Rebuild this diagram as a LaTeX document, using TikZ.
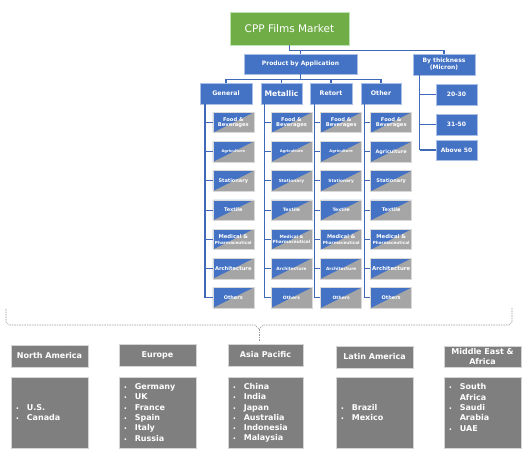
\documentclass[tikz,border=0pt]{standalone}
\usepackage{fontspec}
\setmainfont{DejaVu Sans}
\usetikzlibrary{calc}
\definecolor{cblue}{HTML}{4472C4}
\definecolor{cgray}{HTML}{A5A5A5}
\definecolor{cgreen}{HTML}{70AD47}
\definecolor{cline}{HTML}{4068B8}
\definecolor{rgray}{HTML}{7F7F7F}
\definecolor{rborder}{HTML}{D4D4D4}
\definecolor{bborder}{HTML}{A9BFE6}
\newcommand\fs[2]{\fontsize{#1}{#2}\selectfont}
\newcommand\bl{\makebox[11pt][l]{\fs{5}{5}\textbullet}}
\begin{document}
\begin{tikzpicture}[x=1pt,y=-1pt,
  conn/.style={draw=cline,line width=1.1pt},
  bbox/.style={rectangle,inner sep=0pt,fill=cblue,draw=bborder,line width=0.7pt,text=white,align=center},
  sub/.style={rectangle,minimum width=41pt,minimum height=20.5pt,inner sep=0pt,fill=cgray,
    draw=white!85!black,line width=0.5pt,text=white,align=center,
    path picture={\fill[cblue] (path picture bounding box.south west) -- (path picture bounding box.north west) -- (path picture bounding box.north east) -- cycle;}},
  rhead/.style={rectangle,inner sep=0pt,fill=rgray,draw=rborder,line width=0.8pt,minimum width=77pt,minimum height=22pt,text=white,align=center,font=\bfseries\fs{8}{10}},
  rbody/.style={rectangle,inner sep=0pt,fill=rgray,draw=rborder,line width=0.8pt,minimum width=77pt,minimum height=71pt},
  rtext/.style={inner sep=0pt,anchor=west,text=white,align=left,font=\bfseries\fs{8}{10.3}},
  brace/.style={draw=gray!80,line width=0.6pt,dash pattern=on 1.5pt off 1pt}
]
\fill[white] (0,0) rectangle (531,460);
\useasboundingbox (0,0) rectangle (531,460);

% top
\node[rectangle,inner sep=0pt,fill=cgreen,draw=green!20!cgreen!40!white,line width=0.8pt,minimum width=119pt,minimum height=33pt,text=white,font=\fs{10.5}{12}] (title) at (289.5,28.5) {CPP Films Market};
\node[bbox,minimum width=113pt,minimum height=20pt,font=\bfseries\fs{6}{7}] (prod) at (300.5,64) {Product by Application};
\node[bbox,minimum width=62pt,minimum height=21pt,font=\bfseries\fs{6}{7.2}] (thick) at (444,64.5) {By thickness\\(Micron)};

\node[bbox,minimum width=52pt,minimum height=21pt,font=\bfseries\fs{6.2}{7}] (gen) at (226,93.5) {General};
\node[bbox,minimum width=41pt,minimum height=21pt,font=\bfseries\fs{7.6}{8}] (met) at (281.5,93.5) {Metallic};
\node[bbox,minimum width=42pt,minimum height=21pt,font=\bfseries\fs{6.3}{7}] (ret) at (331,93.5) {Retort};
\node[bbox,minimum width=40pt,minimum height=21pt,font=\bfseries\fs{6.3}{7}] (oth) at (381,93.5) {Other};

\node[bbox,minimum width=41pt,minimum height=21pt,font=\bfseries\fs{6}{7}] (t1) at (456.5,94.5) {20-30};
\node[bbox,minimum width=41pt,minimum height=21pt,font=\bfseries\fs{6}{7}] (t2) at (456.5,124.5) {31-50};
\node[bbox,minimum width=41pt,minimum height=20pt,font=\bfseries\fs{6}{7}] (t3) at (456.5,150) {Above 50};

% sub boxes: General
\node[sub,font=\bfseries\fs{5.2}{5.8}] (g1) at (233.3,122.5) {Food \&\\Beverages};
\node[sub,font=\bfseries\fs{3.7}{4}] (g2) at (233.3,151.7) {Agriculture};
\node[sub,font=\bfseries\fs{5}{5.5}] (g3) at (233.3,180.9) {Stationary};
\node[sub,font=\bfseries\fs{5}{5.5}] (g4) at (233.3,210.1) {Textile};
\node[sub,font=\bfseries\fs{4.2}{5.6}] (g5) at (233.3,239.3) {{\fs{5.3}{5.6}Medical \&}\\Pharmaceutical};
\node[sub,font=\bfseries\fs{5.2}{5.5}] (g6) at (233.3,268.5) {Architecture};
\node[sub,font=\bfseries\fs{5}{5.5}] (g7) at (233.3,297.7) {Others};
% Metallic
\node[sub,font=\bfseries\fs{5.2}{5.8}] (m1) at (291.5,122.5) {Food \&\\Beverages};
\node[sub,font=\bfseries\fs{3.7}{4}] (m2) at (291.5,151.7) {Agriculture};
\node[sub,font=\bfseries\fs{4.3}{5}] (m3) at (291.5,180.9) {Stationary};
\node[sub,font=\bfseries\fs{4.6}{5}] (m4) at (291.5,210.1) {Textile};
\node[sub,font=\bfseries\fs{4.3}{5.2}] (m5) at (291.5,239.3) {Medical \&\\Pharmaceutical};
\node[sub,font=\bfseries\fs{4.3}{5}] (m6) at (291.5,268.5) {Architecture};
\node[sub,font=\bfseries\fs{4.5}{5}] (m7) at (291.5,297.7) {Others};
% Retort
\node[sub,font=\bfseries\fs{5.2}{5.8}] (r1) at (341.2,122.5) {Food \&\\Beverages};
\node[sub,font=\bfseries\fs{3.7}{4}] (r2) at (341.2,151.7) {Agriculture};
\node[sub,font=\bfseries\fs{4.3}{5}] (r3) at (341.2,180.9) {Stationary};
\node[sub,font=\bfseries\fs{4.6}{5}] (r4) at (341.2,210.1) {Textile};
\node[sub,font=\bfseries\fs{4.2}{5.6}] (r5) at (341.2,239.3) {{\fs{5.1}{5.6}Medical \&}\\Pharmaceutical};
\node[sub,font=\bfseries\fs{4.3}{5}] (r6) at (341.2,268.5) {Architecture};
\node[sub,font=\bfseries\fs{4.5}{5}] (r7) at (341.2,297.7) {Others};
% Other
\node[sub,font=\bfseries\fs{5.2}{5.8}] (o1) at (391.2,122.5) {Food \&\\Beverages};
\node[sub,font=\bfseries\fs{4.9}{5.5}] (o2) at (391.2,151.7) {Agriculture};
\node[sub,font=\bfseries\fs{5}{5.5}] (o3) at (391.2,180.9) {Stationary};
\node[sub,font=\bfseries\fs{5}{5.5}] (o4) at (391.2,210.1) {Textile};
\node[sub,font=\bfseries\fs{4.2}{5.6}] (o5) at (391.2,239.3) {{\fs{5.3}{5.6}Medical \&}\\Pharmaceutical};
\node[sub,font=\bfseries\fs{5.4}{5.8}] (o6) at (391.2,268.5) {Architecture};
\node[sub,font=\bfseries\fs{5}{5.5}] (o7) at (391.2,297.7) {Others};

% connectors top
\coordinate (j1) at ($(title.south)+(0,5)$);
\draw[conn] (title.south) -- (j1) -| (thick.north);
\draw[conn] (j1 -| prod.north) -- (prod.north);
\coordinate (j2) at ($(prod.south)+(0,5)$);
\draw[conn] (prod.south) -- (j2);
\draw[conn] (j2 -| gen.north) -- (j2 -| oth.north);
\foreach \n in {gen,met,ret,oth} \draw[conn] (j2 -| \n.north) -- (\n.north);

% column verticals
\coordinate (gv) at ($(gen.south west)+(5.3,0)$);
\coordinate (mv) at ($(met.south west)+(4,0)$);
\coordinate (rv) at ($(ret.south west)+(5,0)$);
\coordinate (ov) at ($(oth.south west)+(3.7,0)$);
\foreach \c/\p in {gv/g,mv/m,rv/r,ov/o}{
  \draw[conn] (\c) -- (\c |- \p7.west);
  \foreach \i in {1,...,7} \draw[conn] (\c |- \p\i.west) -- (\p\i.west);
}
\coordinate (tv) at ($(thick.south west)+(7,0)$);
\draw[conn] (tv) -- (tv |- t3.west);
\foreach \i in {1,2,3} \draw[conn] (tv |- t\i.west) -- (t\i.west);

% dashed brace
\coordinate (bl) at (6,309);
\coordinate (br) at (512,308);
\coordinate (btip) at (259,329);
\coordinate (bend) at (259,341);
\draw[brace] (bl) -- (6,322) -- (9,325) -- (255,325) -- (btip) -- (263,325) -- (509,325) -- (512,322) -- (br);
\draw[brace] (btip) -- (bend);

% regions
\node[rhead] (nah) at (49.5,356) {North America};
\node[rhead] (euh) at (157.5,355.5) {Europe};
\node[rhead,minimum width=75pt] (aph) at (265.5,355) {Asia Pacific};
\node[rhead] (lah) at (374.5,357) {Latin America};
\node[rhead,minimum height=21pt] (meh) at (482.5,356.5) {Middle East \&\\Africa};

\node[rbody] (nab) at (49.5,412.5) {};
\node[rbody] (eub) at (157.5,412.5) {};
\node[rbody,minimum width=75pt] (apb) at (265.5,412.5) {};
\node[rbody] (lab) at (374.5,412.5) {};
\node[rbody] (meb) at (482.5,412.5) {};

\node[rtext] (nat) at ($(nab.west)+(5,0)$) {\bl U.S.\\\bl Canada};
\node[rtext] (eut) at ($(eub.west)+(5,0)$) {\bl Germany\\\bl UK\\\bl France\\\bl Spain\\\bl Italy\\\bl Russia};
\node[rtext] (apt) at ($(apb.west)+(5,0.5)$) {\bl China\\\bl India\\\bl Japan\\\bl Australia\\\bl Indonesia\\\bl Malaysia};
\node[rtext] (lat) at ($(lab.west)+(5,0)$) {\bl Brazil\\\bl Mexico};
\node[rtext] (met2) at ($(meb.west)+(5,-5)$) {\bl South\\\hspace*{11pt}Africa\\\bl Saudi\\\hspace*{11pt}Arabia\\\bl UAE};
\end{tikzpicture}
\end{document}
